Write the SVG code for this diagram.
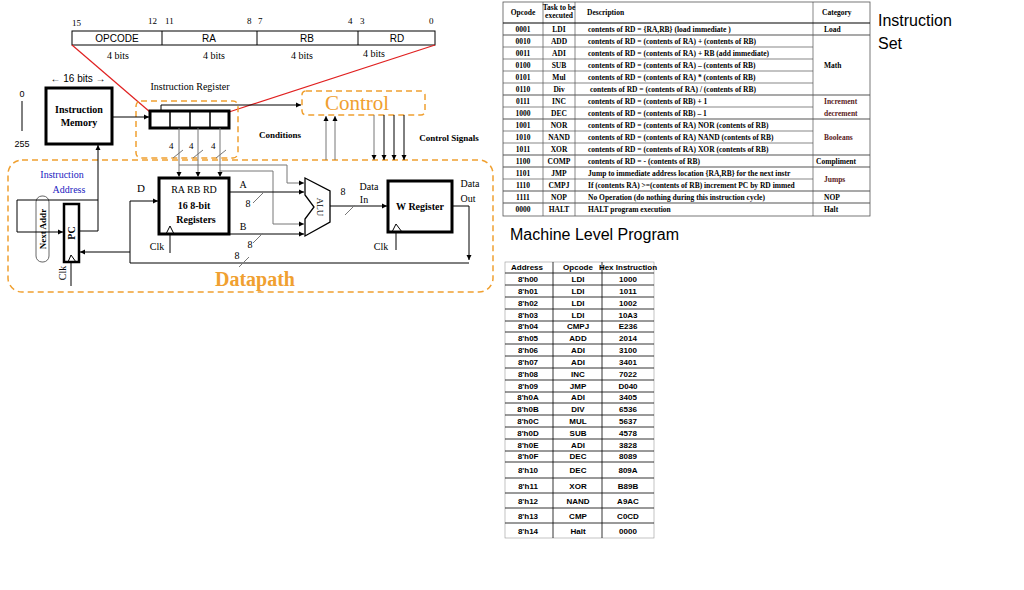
<svg xmlns="http://www.w3.org/2000/svg" width="1024" height="590" viewBox="0 0 1024 590">
<style>
.s{font-family:"Liberation Serif",serif;fill:#000}
.a{font-family:"Liberation Sans",sans-serif;fill:#000}
.ln{stroke:#000;stroke-width:1;fill:none}
.gr{stroke:#777;stroke-width:1;fill:none}
.or{stroke:#f0a030;stroke-width:1.5;fill:none;stroke-dasharray:6,4}
.bx{stroke:#000;stroke-width:3;fill:#fff}
.t{font-family:"Liberation Serif",serif;font-weight:bold;font-size:7.5px;fill:#000}
.p{font-family:"Liberation Sans",sans-serif;font-weight:bold;font-size:8px;fill:#000;text-anchor:middle}
.c{text-anchor:middle}
.tl{stroke:#555;stroke-width:0.7}
.tk{stroke:#000;stroke-width:1.5}
</style>
<defs>
<marker id="ar" markerWidth="6" markerHeight="6" refX="5" refY="3" orient="auto" markerUnits="userSpaceOnUse"><path d="M0,0.5 L5,3 L0,5.5z" fill="#000"/></marker>
</defs>
<rect width="1024" height="590" fill="#fff"/>

<g id="format">
<rect x="72" y="31" width="363" height="14" fill="#fff" stroke="#000"/>
<line class="ln" x1="162" y1="31" x2="162" y2="45"/><line class="ln" x1="257" y1="31" x2="257" y2="45"/><line class="ln" x1="358" y1="31" x2="358" y2="45"/>
<g class="a c" font-size="10"><text x="117" y="42">OPCODE</text><text x="209" y="42">RA</text><text x="307" y="42">RB</text><text x="397" y="42">RD</text></g>
<g class="s" font-size="9"><text x="72" y="26">15</text><text x="148" y="24">12</text><text x="165" y="24">11</text><text x="247" y="24">8</text><text x="258" y="24">7</text><text x="348" y="24">4</text><text x="360" y="24">3</text><text x="429" y="24">0</text></g>
<g class="s c" font-size="10"><text x="118" y="59">4 bits</text><text x="214" y="59">4 bits</text><text x="302" y="59">4 bits</text><text x="374" y="57">4 bits</text></g>
<line x1="72" y1="45" x2="150" y2="112" stroke="#e02020" stroke-width="1.2"/>
<line x1="435" y1="45" x2="229" y2="112" stroke="#e02020" stroke-width="1.2"/>
</g>

<g id="frames">
<rect class="or" x="136" y="101" width="102" height="57" rx="5"/>
<rect class="or" x="8" y="160" width="485" height="132" rx="14"/>
<text x="255" y="286" class="s c" font-size="20" font-weight="bold" style="fill:#f0a030">Datapath</text>
</g>

<g id="imem">
<rect class="bx" x="46" y="88" width="66" height="56"/>
<text x="79" y="113" class="s c" font-size="10" font-weight="bold">Instruction</text>
<text x="79" y="126" class="s c" font-size="10" font-weight="bold">Memory</text>
<text x="78" y="82" class="a c" font-size="10" font-family="DejaVu Sans">← 16 bits →</text>
<text x="22" y="97" class="a c" font-size="9">0</text>
<line class="ln" x1="22" y1="101" x2="22" y2="131"/>
<text x="22" y="147" class="a c" font-size="9">255</text>
</g>

<g id="ir">
<text x="190" y="90" class="s c" font-size="10">Instruction Register</text>
<rect class="bx" x="150" y="111" width="79" height="17"/>
<line class="tk" x1="170" y1="111" x2="170" y2="128"/><line class="tk" x1="190" y1="111" x2="190" y2="128"/><line class="tk" x1="210" y1="111" x2="210" y2="128"/>
</g>

<g id="control">
<rect class="or" x="302" y="91" width="123" height="24" rx="4"/>
<text x="357" y="110" class="s c" font-size="21" style="fill:#f0a030">Control</text>
<text x="280" y="138" class="s c" font-size="9" font-weight="bold">Conditions</text>
<text x="449" y="141" class="s c" font-size="9" font-weight="bold">Control Signals</text>
</g>

<g id="regs">
<rect class="bx" x="159" y="178" width="70" height="56"/>
<text x="194" y="193" class="s c" font-size="10">RA  RB  RD</text>
<text x="194" y="209" class="s c" font-size="10" font-weight="bold">16 8-bit</text>
<text x="196" y="223" class="s c" font-size="10" font-weight="bold">Registers</text>
<path class="ln" d="M166,234 L170,226 L174,234"/>
<text x="157" y="250" class="s c" font-size="10">Clk</text>
</g>

<g id="alu">
<path d="M305,178 L330,191 L330,222 L305,236 L305,219 L314,207 L305,195 Z" fill="#fff" stroke="#000" stroke-width="1.3"/>
<text x="0" y="0" class="s c" font-size="9" transform="translate(317,207) rotate(90)">ALU</text>
</g>

<g id="wreg">
<rect class="bx" x="388" y="181" width="64" height="51"/>
<text x="420" y="210" class="s c" font-size="10" font-weight="bold">W Register</text>
<path class="ln" d="M392,232 L396,224 L402,232"/>
<text x="381" y="250" class="s c" font-size="10">Clk</text>
<text x="470" y="187" class="s c" font-size="10">Data</text>
<text x="468" y="202" class="s c" font-size="10">Out</text>
</g>

<g id="pc">
<rect class="bx" x="64" y="204" width="15" height="58" style="stroke-width:2.5"/>
<text class="s c" font-size="10" font-weight="bold" transform="translate(75,233) rotate(-90)">PC</text>
<path class="ln" d="M68,262 L71,255 L76,262"/>
<text class="s c" font-size="10" transform="translate(66,273) rotate(-90)">Clk</text>
<rect x="36" y="196" width="13" height="66" rx="6" fill="#fff" stroke="#666"/>
<text class="s c" font-size="9" font-weight="bold" transform="translate(46,229) rotate(-90)">Next Addr</text>
<text x="62" y="178" class="s c" font-size="10" style="fill:#2020c0">Instruction</text>
<text x="69" y="193" class="s c" font-size="10" style="fill:#2020c0">Address</text>
<text x="141" y="192" class="s c" font-size="11">D</text>
</g>

<g id="connectors">
<line class="ln" x1="112" y1="117" x2="149" y2="117" marker-end="url(#ar)"/>
<path class="ln" d="M161,111 V105 H301" marker-end="url(#ar)"/>
<line class="gr" x1="326" y1="160" x2="326" y2="116" marker-end="url(#ar)"/>
<line class="gr" x1="335" y1="160" x2="335" y2="116" marker-end="url(#ar)"/>
<line class="gr" x1="374" y1="115" x2="374" y2="160" marker-end="url(#ar)"/>
<line class="ln" x1="384" y1="115" x2="384" y2="160" marker-end="url(#ar)"/>
<line class="ln" x1="394" y1="115" x2="394" y2="160" marker-end="url(#ar)"/>
<line class="ln" x1="404" y1="115" x2="404" y2="160" marker-end="url(#ar)"/>
<line class="gr" x1="179" y1="128" x2="179" y2="177" marker-end="url(#ar)"/>
<line class="gr" x1="198" y1="128" x2="198" y2="177" marker-end="url(#ar)"/>
<line class="gr" x1="220" y1="128" x2="220" y2="177" marker-end="url(#ar)"/>
<g class="s" font-size="9"><text x="169" y="149">4</text><text x="189" y="149">4</text><text x="211" y="149">4</text></g>
<g class="gr"><line x1="173" y1="158" x2="183" y2="150"/><line x1="193" y1="158" x2="203" y2="150"/><line x1="216" y1="158" x2="226" y2="150"/></g>
<path class="gr" d="M179,165 H287 V183 H304" marker-end="url(#ar)"/>
<path class="gr" d="M220,171 H273 V224 H304" marker-end="url(#ar)"/>
<line class="ln" x1="229" y1="192" x2="304" y2="192" marker-end="url(#ar)"/>
<line class="ln" x1="229" y1="234" x2="304" y2="234" marker-end="url(#ar)"/>
<text x="243" y="188" class="s c" font-size="10">A</text>
<text x="243" y="230" class="s c" font-size="10">B</text>
<text x="248" y="207" class="s c" font-size="10">8</text>
<text x="250" y="248" class="s c" font-size="10">8</text>
<line class="gr" x1="253" y1="203" x2="263" y2="193"/>
<line class="gr" x1="253" y1="243" x2="263" y2="233"/>
<line class="ln" x1="170" y1="234" x2="170" y2="253"/>
<line class="ln" x1="330" y1="206" x2="387" y2="206" marker-end="url(#ar)"/>
<text x="343" y="195" class="s c" font-size="10">8</text>
<line class="gr" x1="345" y1="215" x2="355" y2="205"/>
<text x="369" y="190" class="s c" font-size="10">Data</text>
<text x="364" y="203" class="s c" font-size="10">In</text>
<line class="ln" x1="396" y1="232" x2="396" y2="250"/>
<path class="ln" d="M452,206 H469 V260" marker-end="url(#ar)"/>
<path class="ln" d="M469,263 H130 V201 H158" marker-end="url(#ar)"/>
<line class="ln" x1="130" y1="252" x2="80" y2="252" marker-end="url(#ar)"/>
<text x="237" y="259" class="s c" font-size="10">8</text>
<line class="gr" x1="239" y1="267" x2="249" y2="257"/>
<path class="ln" d="M79,231 H98 V145" marker-end="url(#ar)"/>
<path class="ln" d="M98,200 H17 V232 H63" marker-end="url(#ar)"/>
<line class="ln" x1="71" y1="262" x2="71" y2="286"/>
</g>

<g id="isa">
<rect x="503" y="2" width="367" height="214" fill="#fff" stroke="#555" stroke-width="0.8"/>
<g class="tl">
<line x1="543" y1="2" x2="543" y2="216"/><line x1="575" y1="2" x2="575" y2="216"/><line x1="813" y1="2" x2="813" y2="216"/>
<line class="tk" x1="503" y1="23" x2="870" y2="23" style="stroke-width:1.2"/>
<line x1="503" y1="35" x2="870" y2="35" style="stroke-width:1.2"/>
<line x1="503" y1="47" x2="813" y2="47"/><line x1="503" y1="59" x2="813" y2="59"/><line x1="503" y1="71" x2="813" y2="71"/><line x1="503" y1="83" x2="813" y2="83"/>
<line x1="503" y1="95" x2="870" y2="95" style="stroke-width:1.2"/>
<line x1="503" y1="107" x2="813" y2="107"/>
<line x1="503" y1="119" x2="870" y2="119" style="stroke-width:1.2"/>
<line x1="503" y1="131" x2="813" y2="131"/><line x1="503" y1="143" x2="813" y2="143"/>
<line x1="503" y1="155" x2="870" y2="155" style="stroke-width:1.2"/>
<line x1="503" y1="167" x2="870" y2="167" style="stroke-width:1.2"/>
<line x1="503" y1="179" x2="813" y2="179"/>
<line x1="503" y1="191" x2="870" y2="191" style="stroke-width:1.2"/>
<line x1="503" y1="203" x2="870" y2="203" style="stroke-width:1.2"/>
</g>
<text x="523" y="15" class="t c">Opcode</text>
<text x="559" y="10" class="t c" font-size="6">Task to be</text><text x="559" y="18" class="t c" font-size="6">executed</text>
<text x="587" y="15" class="t">Description</text>
<text x="822" y="15" class="t">Category</text>
<g class="t c">
<text x="523" y="32">0001</text><text x="523" y="44">0010</text><text x="523" y="56">0011</text><text x="523" y="68">0100</text><text x="523" y="80">0101</text><text x="523" y="92">0110</text><text x="523" y="104">0111</text><text x="523" y="116">1000</text><text x="523" y="128">1001</text><text x="523" y="140">1010</text><text x="523" y="152">1011</text><text x="523" y="164">1100</text><text x="523" y="176">1101</text><text x="523" y="188">1110</text><text x="523" y="200">1111</text><text x="523" y="212">0000</text>
<text x="559" y="32">LDI</text><text x="559" y="44">ADD</text><text x="559" y="56">ADI</text><text x="559" y="68">SUB</text><text x="559" y="80">Mul</text><text x="559" y="92">Div</text><text x="559" y="104">INC</text><text x="559" y="116">DEC</text><text x="559" y="128">NOR</text><text x="559" y="140">NAND</text><text x="559" y="152">XOR</text><text x="559" y="164">COMP</text><text x="559" y="176">JMP</text><text x="559" y="188">CMPJ</text><text x="559" y="200">NOP</text><text x="559" y="212">HALT</text>
</g>
<g class="t" font-size="7">
<text x="588" y="32">contents of RD = {RA,RB}    (load immediate )</text>
<text x="588" y="44">contents of RD = (contents of RA) + (contents of RB)</text>
<text x="588" y="56">contents of RD = (contents of RA) + RB (add immediate)</text>
<text x="588" y="68">contents of RD = (contents of RA) – (contents of RB)</text>
<text x="588" y="80">contents of RD = (contents of RA) * (contents of RB)</text>
<text x="590" y="92">contents of RD = (contents of RA) / (contents of RB)</text>
<text x="588" y="104">contents of RD = (contents of RB) + 1</text>
<text x="588" y="116">contents of RD = (contents of RB) – 1</text>
<text x="588" y="128">contents of RD = (contents of RA) NOR (contents of RB)</text>
<text x="588" y="140">contents of RD = (contents of RA) NAND (contents of RB)</text>
<text x="588" y="152">contents of RD = (contents of RA) XOR (contents of RB)</text>
<text x="588" y="164">contents of RD = - (contents of RB)</text>
<text x="588" y="176">Jump to immediate address location {RA,RB} for the next instr</text>
<text x="588" y="188">If (contents RA) &gt;=(contents of RB) increment PC by RD immed</text>
<text x="588" y="200">No Operation (do nothing during this instruction cycle)</text>
<text x="588" y="212">HALT program execution</text>
</g>
<g class="t" font-size="7">
<text x="824" y="32">Load</text><text x="824" y="68">Math</text>
<text x="824" y="104" style="fill:#5a1a1a">Increment</text><text x="824" y="116" style="fill:#5a1a1a">decrement</text>
<text x="824" y="140" style="fill:#5a1a1a">Booleans</text>
<text x="816" y="164">Compliment</text>
<text x="824" y="182" style="fill:#5a1a1a">Jumps</text>
<text x="824" y="200">NOP</text><text x="824" y="212">Halt</text>
</g>
<text x="878" y="26" class="a" font-size="16">Instruction</text>
<text x="878" y="49" class="a" font-size="16">Set</text>
</g>

<g id="program">
<text x="510" y="240" class="a" font-size="16">Machine Level Program</text>
<rect x="505" y="262" width="149" height="276" fill="#fff" stroke="#999" stroke-width="0.6"/>
<g stroke="#000" stroke-width="0.8">
<line x1="553" y1="262" x2="553" y2="538"/><line x1="602" y1="262" x2="602" y2="538"/>
<line x1="505" y1="273" x2="654" y2="273"/><line x1="505" y1="285" x2="654" y2="285"/><line x1="505" y1="297" x2="654" y2="297"/><line x1="505" y1="309" x2="654" y2="309"/><line x1="505" y1="321" x2="654" y2="321"/><line x1="505" y1="332" x2="654" y2="332"/><line x1="505" y1="344" x2="654" y2="344"/><line x1="505" y1="356" x2="654" y2="356"/><line x1="505" y1="368" x2="654" y2="368"/><line x1="505" y1="380" x2="654" y2="380"/><line x1="505" y1="392" x2="654" y2="392"/><line x1="505" y1="403" x2="654" y2="403"/><line x1="505" y1="415" x2="654" y2="415"/><line x1="505" y1="427" x2="654" y2="427"/><line x1="505" y1="439" x2="654" y2="439"/><line x1="505" y1="451" x2="654" y2="451"/><line x1="505" y1="462" x2="654" y2="462"/><line x1="505" y1="478" x2="654" y2="478"/><line x1="505" y1="493" x2="654" y2="493"/><line x1="505" y1="508" x2="654" y2="508"/><line x1="505" y1="523" x2="654" y2="523"/>
</g>
<text x="527" y="270" class="p" font-size="7">Address</text><text x="578" y="270" class="p" font-size="7">Opcode</text><text x="628" y="270" class="p" font-size="7">Hex Instruction</text>
<g class="p">
<text x="528" y="282">8'h00</text><text x="578" y="282">LDI</text><text x="628" y="282">1000</text>
<text x="528" y="294">8'h01</text><text x="578" y="294">LDI</text><text x="628" y="294">1011</text>
<text x="528" y="306">8'h02</text><text x="578" y="306">LDI</text><text x="628" y="306">1002</text>
<text x="528" y="318">8'h03</text><text x="578" y="318">LDI</text><text x="628" y="318">10A3</text>
<text x="528" y="329">8'h04</text><text x="578" y="329">CMPJ</text><text x="628" y="329">E236</text>
<text x="528" y="341">8'h05</text><text x="578" y="341">ADD</text><text x="628" y="341">2014</text>
<text x="528" y="353">8'h06</text><text x="578" y="353">ADI</text><text x="628" y="353">3100</text>
<text x="528" y="365">8'h07</text><text x="578" y="365">ADI</text><text x="628" y="365">3401</text>
<text x="528" y="377">8'h08</text><text x="578" y="377">INC</text><text x="628" y="377">7022</text>
<text x="528" y="389">8'h09</text><text x="578" y="389">JMP</text><text x="628" y="389">D040</text>
<text x="528" y="400">8'h0A</text><text x="578" y="400">ADI</text><text x="628" y="400">3405</text>
<text x="528" y="412">8'h0B</text><text x="578" y="412">DIV</text><text x="628" y="412">6536</text>
<text x="528" y="424">8'h0C</text><text x="578" y="424">MUL</text><text x="628" y="424">5637</text>
<text x="528" y="436">8'h0D</text><text x="578" y="436">SUB</text><text x="628" y="436">4578</text>
<text x="528" y="448">8'h0E</text><text x="578" y="448">ADI</text><text x="628" y="448">3828</text>
<text x="528" y="459">8'h0F</text><text x="578" y="459">DEC</text><text x="628" y="459">8089</text>
<text x="528" y="473">8'h10</text><text x="578" y="473">DEC</text><text x="628" y="473">809A</text>
<text x="528" y="489">8'h11</text><text x="578" y="489">XOR</text><text x="628" y="489">B89B</text>
<text x="528" y="504">8'h12</text><text x="578" y="504">NAND</text><text x="628" y="504">A9AC</text>
<text x="528" y="519">8'h13</text><text x="578" y="519">CMP</text><text x="628" y="519">C0CD</text>
<text x="528" y="534">8'h14</text><text x="578" y="534">Halt</text><text x="628" y="534">0000</text>
</g>
</g>
</svg>
